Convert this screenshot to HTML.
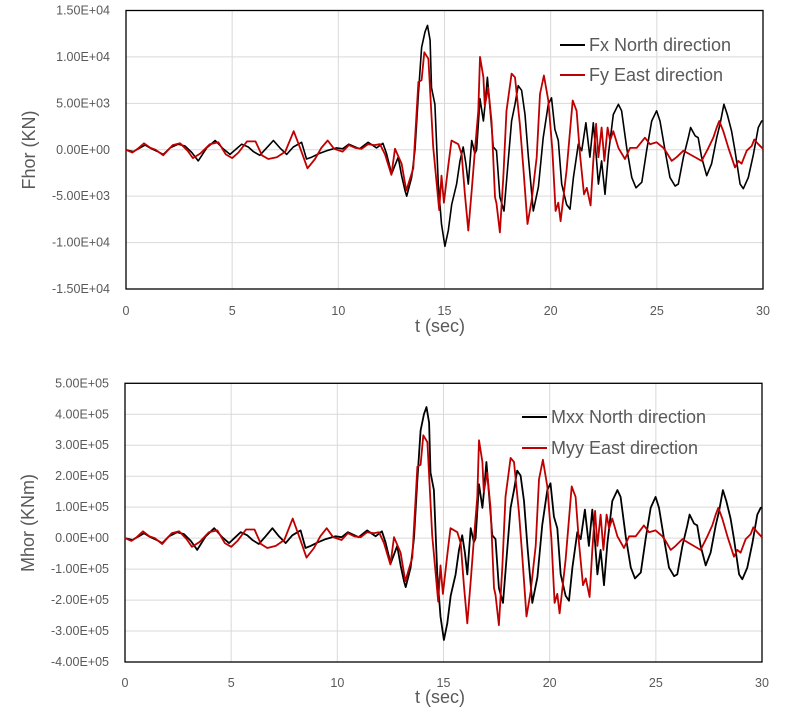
<!DOCTYPE html>
<html><head><meta charset="utf-8">
<style>
html,body{margin:0;padding:0;background:#fff;}
svg{display:block;font-family:"Liberation Sans",sans-serif;}
</style></head>
<body>
<svg id="chart" width="800" height="716" viewBox="0 0 800 716"></svg>
<script>
const tBlack=[0,0.35,0.9,1.2,1.5,1.75,2.07,2.46,2.78,3.1,3.4,3.8,4.2,4.58,4.9,5.45,5.76,6.0,6.3,6.62,6.94,7.25,7.57,7.88,8.27,8.5,8.74,9.1,9.45,9.92,10.2,10.5,11.0,11.4,11.8,12.1,
12.27,12.51,12.82,12.98,13.14,13.22,13.45,13.61,13.77,13.92,14.08,14.2,14.32,14.39,14.55,14.71,14.86,15.02,15.18,15.34,15.57,15.73,15.88,16.01,16.12,16.28,16.43,16.51,16.67,16.83,16.9,17.02,17.14,17.3,17.45,17.61,17.8,18.0,18.16,18.32,18.47,18.63,18.79,18.95,19.18,19.42,19.65,19.89,20.04,20.2,20.36,20.52,20.75,20.91,21.07,
21.3,21.46,21.66,21.85,22.01,22.14,22.25,22.4,22.56,22.72,22.95,23.19,23.34,23.58,23.82,24.02,24.29,24.52,24.76,24.99,25.15,25.39,25.62,25.86,26.01,26.25,26.48,26.59,26.8,26.95,27.11,27.35,27.58,27.82,27.98,28.16,28.32,28.52,28.68,28.92,29.07,29.31,29.55,29.78,29.94,30.0];
const fxNorth=[0,-0.2,0.5,0.1,-0.2,-0.5,0.2,0.6,0.4,-0.3,-1.2,0.2,1.0,0.1,-0.5,0.6,0.3,-0.2,-0.6,0.2,1.0,0.2,-0.5,0.3,0.8,-1.0,-0.8,-0.4,-0.1,0.2,0.1,0.6,0.1,0.8,0.2,0.7,
-0.4,-2.6,-0.8,-2.8,-4.4,-5.0,-3.0,0,6.0,11.0,12.7,13.4,11.8,6.7,4.9,-3.7,-8.0,-10.4,-8.7,-5.9,-3.7,-1.2,0.3,-1.5,-3.7,1.0,-0.4,0,5.5,3.1,4.6,7.8,4.6,0.3,-0.1,-5.1,-6.6,-1.2,3.1,4.9,6.9,6.4,3.8,-0.8,-6.6,-4.0,1.3,4.9,5.6,2.2,1.0,-3.7,-5.9,-6.4,-3.0,
0.6,-0.1,2.9,-0.8,2.9,-0.5,-3.7,-1.2,-4.8,-0.5,3.8,4.9,4.2,0.2,-3.0,-4.1,-3.5,-0.1,3.1,4.2,3.1,-0.1,-3.0,-3.9,-3.7,-0.8,1.3,2.4,1.5,1.3,-0.8,-2.8,-1.5,1.3,2.8,4.9,3.8,2.0,-0.1,-3.7,-4.2,-3.0,-0.5,2.4,3.1,3.1];
const mxxNorth=[0,-0.06,0.16,0.03,-0.06,-0.16,0.06,0.19,0.13,-0.09,-0.38,0.06,0.32,0.03,-0.16,0.19,0.09,-0.06,-0.19,0.06,0.32,0.06,-0.16,0.09,0.25,-0.32,-0.25,-0.13,-0.03,0.06,0.03,0.19,0.03,0.25,0.06,0.22,
-0.13,-0.82,-0.25,-0.88,-1.39,-1.58,-0.95,0,1.9,3.48,4.01,4.23,3.73,2.12,1.55,-1.17,-2.53,-3.29,-2.75,-1.86,-1.17,-0.38,0.09,-0.47,-1.17,0.32,-0.13,0,1.74,0.98,1.45,2.46,1.45,0.09,-0.03,-1.61,-2.09,-0.38,0.98,1.55,2.18,2.02,1.2,-0.25,-2.09,-1.26,0.41,1.55,1.77,0.7,0.32,-1.17,-1.86,-2.02,-0.95,
0.19,-0.03,0.92,-0.25,0.92,-0.16,-1.17,-0.38,-1.52,-0.16,1.2,1.55,1.33,0.06,-0.95,-1.3,-1.11,-0.03,0.98,1.33,0.98,-0.03,-0.95,-1.23,-1.17,-0.25,0.41,0.76,0.47,0.41,-0.25,-0.88,-0.47,0.41,0.88,1.55,1.2,0.63,-0.03,-1.17,-1.33,-0.95,-0.16,0.76,0.98,0.98];
const tRed=[0,0.3,0.55,0.85,1.15,1.4,1.75,2.2,2.55,2.9,3.15,3.5,3.95,4.35,4.7,5.0,5.3,5.7,6.1,6.4,6.7,7.1,7.5,7.9,8.2,8.55,8.9,9.2,9.5,9.8,10.2,10.5,10.8,11.1,11.4,11.7,11.96,
12.2,12.5,12.67,12.98,13.2,13.53,13.77,13.92,14.05,14.24,14.47,14.75,14.86,14.97,15.18,15.33,15.65,15.81,15.96,16.12,16.28,16.43,16.59,16.67,16.83,16.9,17.06,17.22,17.38,17.45,17.61,17.77,17.92,18.16,18.32,18.55,18.71,18.91,19.1,19.34,19.5,19.68,19.89,20.08,20.23,20.36,20.47,20.75,21.04,21.22,21.38,21.57,21.7,21.88,22.01,22.14,22.25,22.4,22.53,22.68,22.8,22.95,23.19,23.5,23.74,24.05,24.44,24.68,24.99,25.31,25.46,25.7,25.93,26.25,26.56,27.11,27.43,27.66,27.82,27.94,28.13,28.37,28.68,28.84,28.99,29.23,29.47,29.59,29.78,30.0];
const fyEast=[0,-0.3,0.1,0.7,0.2,0,-0.6,0.5,0.7,-0.1,-0.9,-0.4,0.6,0.8,-0.5,-0.9,-0.3,0.9,0.9,-0.6,-1.0,-0.8,-0.2,2.0,0.2,-2.0,-1.0,0.2,1.0,0.1,-0.2,0.5,0.2,0.1,0.6,0.5,0.6,
-0.5,-2.7,0.1,-1.5,-4.4,-2.0,7.3,7.5,10.5,9.8,0.3,-6.5,-2.8,-5.7,-1.7,1.0,0.6,-0.5,-4.8,-8.7,-4.4,-0.1,4.2,10.0,7.8,4.7,6.7,3.0,-5.1,-5.8,-8.9,-3.0,4.2,8.2,7.8,2.7,-1.9,-8.0,-5.5,-0.8,6.0,8.0,5.3,-0.1,-6.6,-5.7,-7.7,-2.2,5.3,4.2,-0.5,-4.8,-4.1,-6.0,-1.2,2.8,-0.8,2.4,-1.2,2.4,1.0,2.0,0.2,-1.0,0.2,0.2,1.3,0.6,0.8,0.2,-0.3,-1.2,-0.8,-0.1,-0.5,-1.2,0.2,1.3,2.4,3.1,2.0,0.2,-1.9,-1.2,-1.5,-0.1,0.4,1.1,0.6,0.1];
const myyEast=[0,-0.09,0.03,0.22,0.06,0,-0.19,0.16,0.22,-0.03,-0.28,-0.13,0.19,0.25,-0.16,-0.28,-0.09,0.28,0.28,-0.19,-0.32,-0.25,-0.06,0.63,0.06,-0.63,-0.32,0.06,0.32,0.03,-0.06,0.16,0.06,0.03,0.19,0.16,0.19,
-0.16,-0.85,0.03,-0.47,-1.39,-0.63,2.31,2.37,3.32,3.1,0.09,-2.05,-0.88,-1.8,-0.54,0.32,0.19,-0.16,-1.52,-2.75,-1.39,-0.03,1.33,3.16,2.46,1.49,2.12,0.95,-1.61,-1.83,-2.81,-0.95,1.33,2.59,2.46,0.85,-0.6,-2.53,-1.74,-0.25,1.9,2.53,1.67,-0.03,-2.09,-1.8,-2.43,-0.7,1.67,1.33,-0.16,-1.52,-1.3,-1.9,-0.38,0.88,-0.25,0.76,-0.38,0.76,0.32,0.63,0.06,-0.32,0.06,0.06,0.41,0.19,0.25,0.06,-0.09,-0.38,-0.25,-0.03,-0.16,-0.38,0.06,0.41,0.76,0.98,0.63,0.06,-0.6,-0.38,-0.47,-0.03,0.13,0.35,0.19,0.03];
const xTicks=[0,5,10,15,20,25,30];
const fTicks=[15,10,5,0,-5,-10,-15];
const fTickLabels=["1.50E+04","1.00E+04","5.00E+03","0.00E+00","-5.00E+03","-1.00E+04","-1.50E+04"];
const mTicks=[5,4,3,2,1,0,-1,-2,-3,-4];
const mTickLabels=["5.00E+05","4.00E+05","3.00E+05","2.00E+05","1.00E+05","0.00E+00","-1.00E+05","-2.00E+05","-3.00E+05","-4.00E+05"];

const NS="http://www.w3.org/2000/svg";
const svg=document.getElementById('chart');
function mk(tag,attrs,parent,text){const e=document.createElementNS(NS,tag);for(const k in attrs)e.setAttribute(k,attrs[k]);if(text!==undefined)e.textContent=text;(parent||svg).appendChild(e);return e;}

function drawChart(cfg){
  const g=mk('g',{});
  
  
  const xs=t=>cfg.x0+(t-0)/30*(cfg.x1-cfg.x0);
  const ys=v=>cfg.y0+(cfg.vmax-v)/(cfg.vmax-cfg.vmin)*(cfg.y1-cfg.y0);
  // gridlines
  cfg.ticks.forEach((v,i)=>{
    const l=mk('line',{x1:cfg.x0,x2:cfg.x1,y1:ys(v),y2:ys(v),stroke:'#d9d9d9','stroke-width':1},g);
    
    
    const tx=mk('text',{x:cfg.labelX,y:ys(v)+4,'text-anchor':'end','font-size':12.5,fill:'#595959'},g,cfg.tickLabels[i]);
    
    
  });
  xTicks.forEach(t=>{
    const l=mk('line',{x1:xs(t),x2:xs(t),y1:cfg.y0,y2:cfg.y1,stroke:'#d9d9d9','stroke-width':1},g);
    
    
    const tx=mk('text',{x:xs(t),y:cfg.xLabelY,'text-anchor':'middle','font-size':12.5,fill:'#595959'},g,String(t));
    
    
  });
  const box=mk('rect',{x:cfg.x0,y:cfg.y0,width:cfg.x1-cfg.x0,height:cfg.y1-cfg.y0,fill:'none',stroke:'#000','stroke-width':1.3},g);
  
  
  cfg.series.forEach(s=>{
    const pts=s.t.map((t,i)=>xs(t).toFixed(1)+','+ys(s.v[i]).toFixed(1)).join(' ');
    const p=mk('polyline',{points:pts,fill:'none',stroke:s.color,'stroke-width':s.w,'stroke-linejoin':'round'},g);
    
    
  });
  const yt=mk('text',{x:cfg.ytX,y:cfg.ytY,'text-anchor':'middle','font-size':18,fill:'#595959',transform:`rotate(-90 ${cfg.ytX} ${cfg.ytY})`},g,cfg.yTitle);
  
  
  const xt=mk('text',{x:440,y:cfg.xtY,'text-anchor':'middle','font-size':18,fill:'#595959'},g,'t (sec)');
  
  
  cfg.legend.forEach((L,i)=>{
    const y=cfg.legY+i*cfg.legDy;
    const lg=mk('g',{},g);
    
    
    mk('line',{x1:cfg.legX,x2:cfg.legX+25,y1:y,y2:y,stroke:L.color,'stroke-width':2},lg);
    mk('text',{x:cfg.legX+29,y:y+6,'font-size':18,fill:'#595959','xml:space':'preserve'},lg,L.text);
  });
}
drawChart({name:'force-chart',x0:126,x1:763,y0:10.5,y1:289,vmax:15,vmin:-15,ticks:fTicks,tickLabels:fTickLabels,labelX:110,xLabelY:315,
  ytX:35,ytY:150,yTitle:'Fhor (KN)',xtY:332,legX:560,legY:45,legDy:30,
  series:[{t:tBlack,v:fxNorth,color:'#000',w:1.6,name:'fx-north-line'},{t:tRed,v:fyEast,color:'#c00000',w:1.8,name:'fy-east-line'}],
  legend:[{color:'#000',text:'Fx North direction'},{color:'#c00000',text:'Fy East direction'}]});
drawChart({name:'moment-chart',x0:125,x1:762,y0:383.3,y1:662,vmax:5,vmin:-4,ticks:mTicks,tickLabels:mTickLabels,labelX:109,xLabelY:687,
  ytX:34,ytY:523,yTitle:'Mhor (KNm)',xtY:703,legX:522,legY:417,legDy:31,
  series:[{t:tBlack,v:mxxNorth,color:'#000',w:1.8,name:'mxx-north-line'},{t:tRed,v:myyEast,color:'#c00000',w:1.8,name:'myy-east-line'}],
  legend:[{color:'#000',text:'Mxx North direction'},{color:'#c00000',text:'Myy  East direction'}]});
</script>
</body></html>
